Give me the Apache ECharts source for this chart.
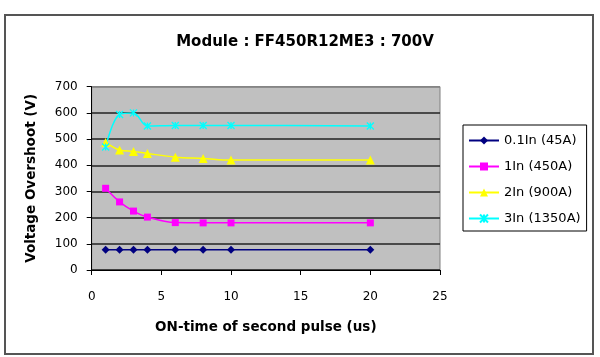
<!DOCTYPE html>
<html>
<head>
<meta charset="utf-8">
<script src="https://cdn.jsdelivr.net/npm/echarts@6/dist/echarts.min.js"></script>
<style>html,body{margin:0;padding:0;background:#fff;}#c{width:600px;height:357px;}</style>
</head>
<body>
<div id="c"></div>
<script>
var xValues = [1, 2, 3, 4, 6, 8, 10, 20];
var s01In = [77, 77, 77, 77, 77, 77, 77, 77];
var s1In = [312, 260, 225, 202, 181, 180, 180, 180];
var s2In = [487, 458, 453, 445, 431, 426, 420, 420];
var s3In = [470, 594, 600, 550, 552, 552, 552, 550];
var seriesNames = ['0.1In (45A)', '1In (450A)', '2In (900A)', '3In (1350A)'];
var xTicks = [0, 5, 10, 15, 20, 25];
var yTicks = [0, 100, 200, 300, 400, 500, 600, 700];

function pairs(ys) { return xValues.map(function (x, i) { return [x, ys[i]]; }); }

var chart = echarts.init(document.getElementById('c'), null, { renderer: 'canvas' });
var font = 'DejaVu Sans, sans-serif';
var starPath = 'path://M0,0L10,10M10,0L0,10M5,0L5,10';

function mk(name, data, color, symbol, size, extra) {
  var s = {
    name: name, type: 'line', data: pairs(data), smooth: 0.35,
    symbol: symbol, symbolSize: size,
    lineStyle: { color: color, width: 1.5 },
    itemStyle: { color: color },
    z: 3
  };
  if (extra) { for (var k in extra) s[k] = extra[k]; }
  return s;
}

var gridColors = ['#222', '#222', '#222', '#222', '#222', '#222', '#222', '#808080'];

chart.setOption({
  animation: false,
  backgroundColor: '#ffffff',
  title: {
    text: 'Module : FF450R12ME3 : 700V',
    left: 300, top: 30, textAlign: 'center',
    textStyle: { fontFamily: font, fontSize: 15, fontWeight: 'bold', color: '#000' }
  },
  graphic: [{
    type: 'rect', shape: { x: 5, y: 15, width: 588, height: 339 },
    style: { fill: 'none', stroke: '#555', lineWidth: 2 }, silent: true, z: 0
  }],
  grid: {
    left: 91.7, right: 160, top: 86.7, bottom: 87,
    show: true, backgroundColor: '#C0C0C0', borderColor: '#808080', borderWidth: 1
  },
  legend: {
    orient: 'vertical', left: 463, top: 125,
    padding: [9, 6, 6, 5],
    itemWidth: 30, itemHeight: 10, itemGap: 13,
    borderColor: '#000', borderWidth: 1, backgroundColor: '#fff',
    textStyle: { fontFamily: font, fontSize: 13, color: '#000' },
    data: seriesNames
  },
  xAxis: {
    type: 'value', min: 0, max: 25, interval: 5,
    name: 'ON-time of second pulse (us)', nameLocation: 'middle', nameGap: 50,
    nameTextStyle: { fontFamily: font, fontSize: 13.5, fontWeight: 'bold', color: '#000' },
    axisLine: { show: true, lineStyle: { color: '#000', width: 1 } },
    axisTick: { show: true, inside: false, length: 5, lineStyle: { color: '#000' } },
    axisLabel: { fontFamily: font, fontSize: 12, color: '#000', margin: 21,
      formatter: function (v) { return xTicks.indexOf(v) >= 0 ? String(v) : ''; } },
    splitLine: { show: false }
  },
  yAxis: {
    type: 'value', min: 0, max: 700, interval: 100,
    name: 'Voltage Overshoot (V)', nameLocation: 'middle', nameGap: 53,
    nameTextStyle: { fontFamily: font, fontSize: 13.5, fontWeight: 'bold', color: '#000' },
    axisLine: { show: true, lineStyle: { color: '#000', width: 1 } },
    axisTick: { show: true, inside: false, length: 5, lineStyle: { color: '#000' } },
    axisLabel: { fontFamily: font, fontSize: 12, color: '#000', margin: 14,
      formatter: function (v) { return yTicks.indexOf(v) >= 0 ? String(v) : ''; } },
    splitLine: { show: true, lineStyle: { color: gridColors, width: 1.5 } }
  },
  series: [
    mk(seriesNames[0], s01In, '#000080', 'diamond', 8),
    mk(seriesNames[1], s1In, '#FF00FF', 'rect', 7),
    mk(seriesNames[2], s2In, '#FFFF00', 'triangle', 9),
    mk(seriesNames[3], s3In, '#00FFFF', starPath, 7, {
      itemStyle: { color: 'rgba(0,0,0,0)', borderColor: '#00FFFF', borderWidth: 1.3 }
    })
  ]
});
</script>
</body>
</html>
